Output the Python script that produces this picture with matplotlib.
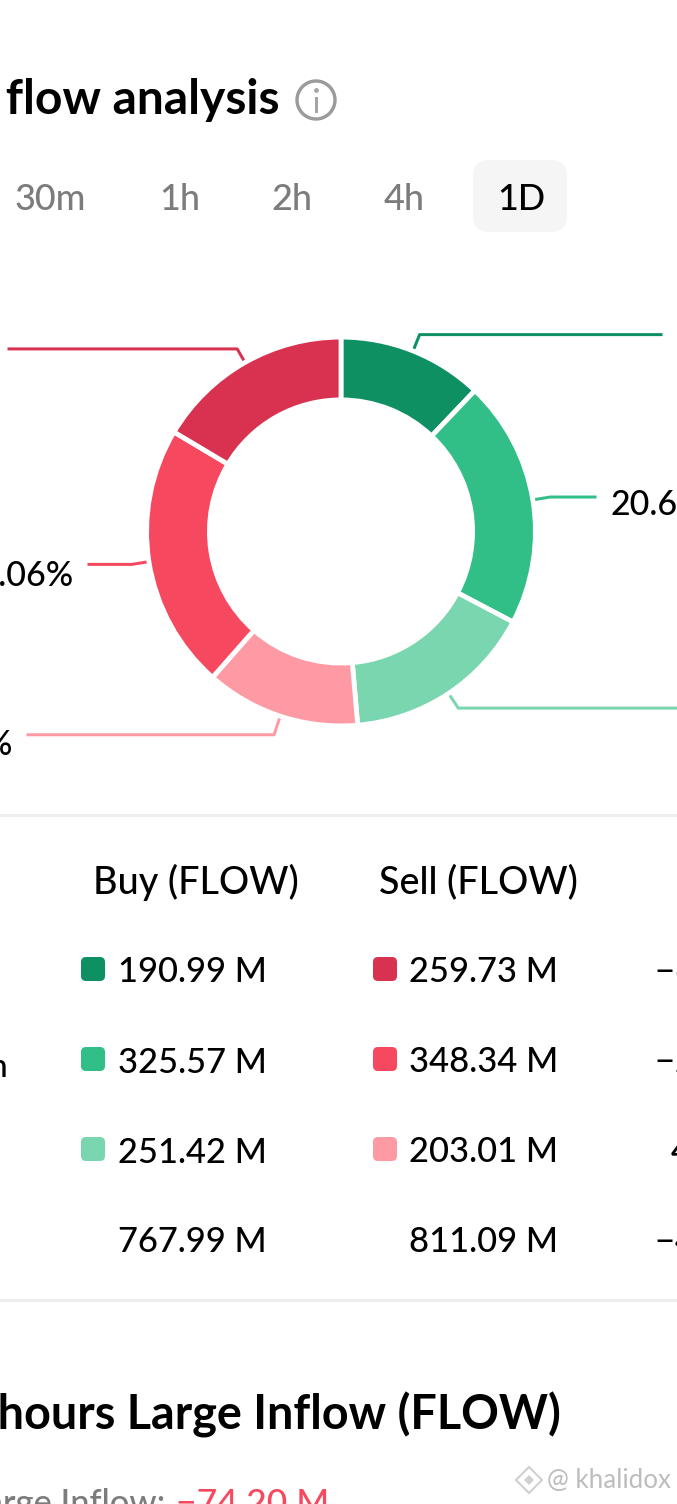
import numpy as np
import matplotlib
matplotlib.use("Agg")
import matplotlib.pyplot as plt
from matplotlib.patches import FancyBboxPatch, Circle, RegularPolygon

W, H = 677, 1504
plt.rcParams['font.family'] = ['Lato', 'DejaVu Sans']

buy = [190.99, 325.57, 251.42]
sell = [259.73, 348.34, 203.01]
buy_total = 767.99
sell_total = 811.09
net = ['−68.74 M', '−22.77 M', '48.41 M', '−43.10 M']
shares = [12.09, 20.62, 15.92, 12.86, 22.06, 16.45]
share_labels = ['12.09%', '20.62%', '15.92%', '12.86%', '22.06%', '16.45%']
periods = ['30m', '1h', '2h', '4h', '1D']
colors = ['#0F9063', '#31BE87', '#79D6AE', '#FE9AA3', '#F6495F', '#D83250']

px = 100 / 72
fig = plt.figure(figsize=(W / 100, H / 100), dpi=100, facecolor='white')

ui = fig.add_axes([0, 0, 1, 1])
ui.set_xlim(0, W)
ui.set_ylim(H, 0)
ui.axis('off')

# donut (outer/inner radii include half of the white separator stroke)
cx, cy, R = 341, 531.5, 192
gap = 4.8
Rg, rg = R + gap / 2, 134 - gap / 2
pie = fig.add_axes([(cx - Rg) / W, 1 - (cy + Rg) / H, 2 * Rg / W, 2 * Rg / H])
pie.pie(shares, colors=colors, startangle=90, counterclock=False, radius=1,
        wedgeprops=dict(width=(Rg - rg) / Rg, edgecolor='white', linewidth=gap / px))
pie.set_xlim(-1, 1)
pie.set_ylim(-1, 1)
pie.set_aspect('equal')
pie.axis('off')

# leader lines follow each slice's mid-angle
line_end = [661, 595, 690, 28, 89, 9]
elbow_r = [212, 212, 212, 214, 212, 210]
mids = (np.cumsum(shares) - np.array(shares) / 2) / np.sum(shares) * 2 * np.pi
for a, c, xe, er in zip(mids, colors, line_end, elbow_r):
    s, k = np.sin(a), np.cos(a)
    x0, y0 = cx + R * s, cy - R * k
    x1, y1 = cx + er * s, cy - er * k
    ui.plot([x0, x1, xe], [y0, y1, y1], color=c, lw=3 / px, solid_joinstyle='round')

def T(x, y, s, size, color='black', ha='left', weight='medium', va='center_baseline', **kw):
    return ui.text(x, y, s, fontsize=size / px, color=color, ha=ha, va=va,
                   fontweight=weight, **kw)

# header
T(279, 96.5, 'Fund flow analysis', 48, ha='right', weight='bold')
ui.add_patch(Circle((316, 100), 19, fill=False, ec='#9B9B9B', lw=3.4 / px))
ui.plot([316, 316], [98, 111], color='#A5A5A5', lw=3 / px)
ui.plot([316], [90], 'o', color='#A5A5A5', ms=3.4 / px)

# period tabs
ui.add_patch(FancyBboxPatch((489, 176), 62, 40, boxstyle='round,pad=16,rounding_size=16',
                            fc='#F5F5F5', ec='none'))
for x, p in zip([50, 180, 292, 404, 521], periods):
    T(x, 197, p, 36, color='black' if p == '1D' else '#7C7C7C', ha='center')

# donut labels
T(611, 502, share_labels[1], 34)
T(74, 573, share_labels[4], 34, ha='right')
T(13, 742, share_labels[3], 34, ha='right')

# dividers
ui.plot([0, W], [815, 815], color='#EEEEEE', lw=3 / px)
ui.plot([0, W], [1300, 1300], color='#EEEEEE', lw=3 / px)

# table
T(93, 878.5, 'Buy (FLOW)', 37.8)
T(379, 878.5, 'Sell (FLOW)', 37.8)
rows_y = [969, 1059, 1149, 1239]
T(8, 1065, 'Medium', 33, ha='right')
for i, y in enumerate(rows_y[:3]):
    for x, c in ((81, colors[i]), (373, colors[5 - i])):
        ui.add_patch(FancyBboxPatch((x + 5, y - 7), 14, 14, boxstyle='round,pad=5,rounding_size=5',
                                    fc=c, ec='none'))
    T(118, y + (1 if i else 0), f'{buy[i]:.2f} M', 34.5)
    T(409, y, f'{sell[i]:.2f} M', 34.5)
T(118, rows_y[3], f'{buy_total:.2f} M', 34.5)
T(409, rows_y[3], f'{sell_total:.2f} M', 34.5)
for x, y, s in zip([655, 655, 671, 655], rows_y, net):
    T(x, y, s, 34.5)

# bottom section
T(561, 1410.5, '24 hours Large Inflow (FLOW)', 46.8, ha='right', weight='bold')
T(165, 1514, 'Large Inflow:', 34.5, color='#7C7C7C', ha='right', va='baseline')
T(176, 1514, '−74.20 M', 35.5, color='#F6495F', va='baseline')

# watermark
ui.add_patch(RegularPolygon((529, 1480), 4, radius=13, fill=False, ec='#D0D0D0', lw=2 / px))
ui.add_patch(RegularPolygon((529, 1480), 4, radius=5, fc='#D0D0D0', ec='none'))
T(547, 1478, '@ khalidox', 26, color='#BDBDBD', weight='normal')

fig.savefig('out.png', dpi=100, facecolor='white')
